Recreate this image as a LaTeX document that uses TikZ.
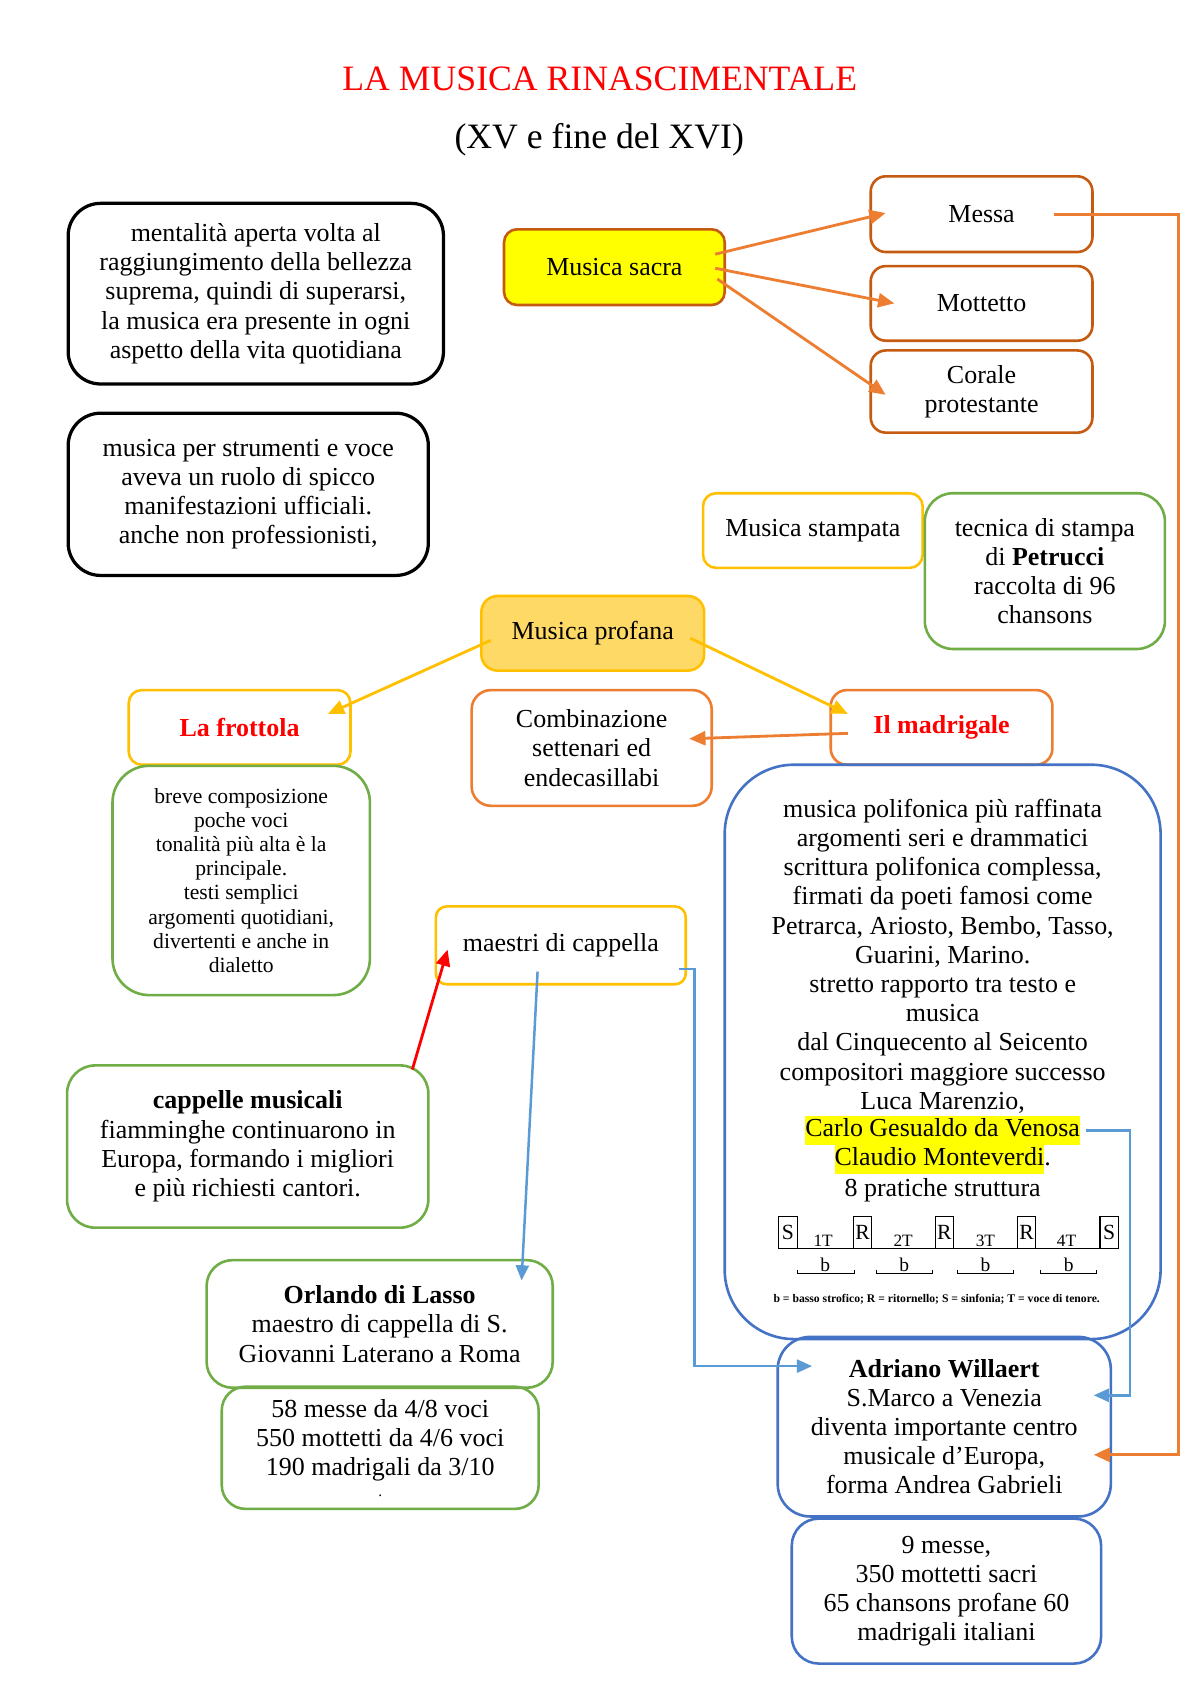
\documentclass[tikz,border=0pt]{standalone}
\usepackage{fontspec}
\setmainfont{Liberation Serif}
\usetikzlibrary{arrows.meta}

\definecolor{rust}{HTML}{C55A11}
\definecolor{orng}{HTML}{ED7D31}
\definecolor{gold}{HTML}{FFC000}
\definecolor{lgold}{HTML}{FFD966}
\definecolor{grn}{HTML}{70AD47}
\definecolor{blu}{HTML}{4472C4}
\definecolor{lblu}{HTML}{5B9BD5}
\definecolor{hl}{HTML}{FFFF00}

\newcommand{\bodyfont}{\fontsize{24}{27}\selectfont}
\newcommand{\smallfont}{\fontsize{20}{22.4}\selectfont}
\setlength{\fboxsep}{0pt}

\begin{document}
\begin{tikzpicture}[x=1pt, y=-1pt,
  box/.style={draw, line width=2.4pt, align=center, inner sep=2pt, font=\bodyfont},
  blackbox/.style={box, draw=black, line width=3pt, rounded corners=30pt},
  sacrabox/.style={box, draw=rust, rounded corners=14pt},
  goldbox/.style={box, draw=gold, rounded corners=12pt},
  greenbox/.style={box, draw=grn, rounded corners=26pt},
  orangebox/.style={box, draw=orng, rounded corners=18pt},
  bluebox/.style={box, draw=blu, rounded corners=28pt},
  oarrow/.style={draw=orng, line width=2.6pt, -{Triangle[length=15pt,width=13pt]}},
  garrow/.style={draw=gold, line width=2.6pt, -{Triangle[length=15pt,width=13pt]}},
  barrow/.style={draw=lblu, line width=2.3pt, -{Triangle[length=14pt,width=12pt]}},
  rarrow/.style={draw=red, line width=2.6pt, -{Triangle[length=15pt,width=13pt]}},
  sbox/.style={draw, line width=1pt, minimum width=17pt, minimum height=29pt, inner sep=0pt, font=\fontsize{20}{20}\selectfont},
  tlab/.style={inner sep=0pt, font=\fontsize{16}{16}\selectfont},
]

  \fill[white] (0,0) rectangle (1109.5,1568);

  % Title
  \node[text=red, font=\fontsize{33}{36}\selectfont] (title) at (554.5,72.5) {LA MUSICA RINASCIMENTALE};
  \node[font=\fontsize{33}{36}\selectfont] (sub) at (554,129) {(XV e fine del XVI)};

  % Left notes
  \node[blackbox, minimum width=347pt, minimum height=167pt] (menta) at (236.5,271.5)
    {mentalità aperta volta al\\raggiungimento della bellezza\\suprema, quindi di superarsi,\\la musica era presente in ogni\\aspetto della vita quotidiana};
  \node[blackbox, minimum width=333pt, minimum height=150pt] (strum) at (229.5,457)
    {musica per strumenti e voce\\aveva un ruolo di spicco\\manifestazioni ufficiali.\\anche non professionisti,};

  % Musica sacra
  \node[sacrabox, fill=hl, minimum width=204pt, minimum height=70pt, rounded corners=12pt] (sacra) at (568,247) {Musica sacra};
  \node[sacrabox, minimum width=205pt, minimum height=70pt] (messa) at (907.5,198) {Messa};
  \node[sacrabox, minimum width=205pt, minimum height=69pt] (mott) at (907.5,280.5) {Mottetto};
  \node[sacrabox, minimum width=205pt, minimum height=76pt] (corale) at (907.5,362) {Corale\\protestante};

  % Musica stampata
  \node[goldbox, minimum width=203pt, minimum height=69pt] (stamp) at (751.5,490.5) {Musica stampata};
  \node[greenbox, minimum width=222pt, minimum height=144pt] (petr) at (966,528)
    {tecnica di stampa\\di \textbf{Petrucci}\\raccolta di 96\\chansons};

  % Musica profana
  \node[goldbox, fill=lgold, minimum width=206pt, minimum height=69pt, rounded corners=15pt] (profana) at (548,585.5) {Musica profana};
  \node[goldbox, minimum width=205pt, minimum height=69pt, text=red, font=\bodyfont\bfseries] (frott) at (221.5,672.5) {La frottola};
  \node[greenbox, minimum width=238pt, minimum height=212pt, rounded corners=34pt, font=\smallfont] (frottdet) at (223,814)
    {breve composizione\\poche voci\\tonalità più alta è la\\principale.\\testi semplici\\argomenti quotidiani,\\divertenti e anche in\\dialetto};
  \node[orangebox, minimum width=222pt, minimum height=107pt] (comb) at (547,691.5)
    {Combinazione\\settenari ed\\endecasillabi};
  \node[orangebox, minimum width=205pt, minimum height=69pt, rounded corners=15pt, text=red, font=\bodyfont\bfseries] (madr) at (870.5,672.5) {Il madrigale};

  % Il madrigale, details
  \node[bluebox, minimum width=403pt, minimum height=531pt, rounded corners=64pt] (madrdet) at (871.5,972.5) {};
  \node[align=center, font=\bodyfont, inner sep=0pt] (madrtxt) at (871.5,884)
    {musica polifonica più raffinata\\argomenti seri e drammatici\\scrittura polifonica complessa,\\firmati da poeti famosi come\\Petrarca, Ariosto, Bembo, Tasso,\\Guarini, Marino.\\stretto rapporto tra testo e\\musica\\dal Cinquecento al Seicento\\compositori maggiore successo\\Luca Marenzio,};
  \node[fill=hl, inner sep=0pt, font=\bodyfont] (carlo) at (871.5,1045) {\strut Carlo Gesualdo da Venosa};
  \node[inner sep=0pt, font=\bodyfont] (claudio) at (871.5,1072) {\colorbox{hl}{\strut Claudio Monteverdi}.};
  \node[inner sep=0pt, font=\bodyfont] (prat) at (871.5,1100) {8 pratiche struttura};

  % struttura
  \node[sbox] (s1) at (728.5,1139.5) {S};
  \node[sbox] (r1) at (797.5,1139.5) {R};
  \node[sbox] (r2) at (873,1139.5) {R};
  \node[sbox] (r3) at (949,1139.5) {R};
  \node[sbox] (s2) at (1025.5,1139.5) {S};
  \draw[line width=1pt] (s1.south west) -- (s2.south east);
  \node[tlab] (t1) at (761,1147) {1T};
  \node[tlab] (t2) at (835,1147) {2T};
  \node[tlab] (t3) at (911,1147) {3T};
  \node[tlab] (t4) at (986,1147) {4T};
  \node[tlab, font=\fontsize{18}{18}\selectfont] (b1) at (763,1169) {b};
  \node[tlab, font=\fontsize{18}{18}\selectfont] (b2) at (836,1169) {b};
  \node[tlab, font=\fontsize{18}{18}\selectfont] (b3) at (911,1169) {b};
  \node[tlab, font=\fontsize{18}{18}\selectfont] (b4) at (988,1169) {b};
  \draw[line width=1pt] (737,1174) -- (737,1177) -- (790,1177) -- (790,1174);
  \draw[line width=1pt] (810,1174) -- (810,1177) -- (862,1177) -- (862,1174);
  \draw[line width=1pt] (885,1174) -- (885,1177) -- (937,1177) -- (937,1174);
  \draw[line width=1pt] (962,1174) -- (962,1177) -- (1014,1177) -- (1014,1174);
  \node[tlab, font=\fontsize{10.8}{12}\selectfont\bfseries] (legend) at (866,1201)
    {b = basso strofico; R = ritornello; S = sinfonia; T = voce di tenore.};

  % Maestri di cappella
  \node[goldbox, minimum width=231pt, minimum height=72pt, rounded corners=10pt] (maestri) at (518.5,874) {maestri di cappella};
  \node[greenbox, minimum width=334pt, minimum height=150pt] (capp) at (229,1060)
    {\textbf{cappelle musicali}\\fiamminghe continuarono in\\Europa, formando i migliori\\e più richiesti cantori.};
  \node[greenbox, minimum width=320pt, minimum height=118pt, rounded corners=24pt] (orlando) at (351,1224)
    {\textbf{Orlando di Lasso}\\maestro di cappella di S.\\Giovanni Laterano a Roma};
  \node[greenbox, minimum width=293pt, minimum height=113pt, rounded corners=22pt] (olist) at (351.5,1338.5)
    {58 messe da 4/8 voci\\550 mottetti da 4/6 voci\\190 madrigali da 3/10\\[-8pt]{\fontsize{14}{14}\selectfont .}};
  \node[bluebox, minimum width=308pt, minimum height=166pt, rounded corners=30pt] (adri) at (873,1319)
    {\textbf{Adriano Willaert}\\S.Marco a Venezia\\diventa importante centro\\musicale d’Europa,\\forma Andrea Gabrieli};
  \node[bluebox, minimum width=286pt, minimum height=134pt, rounded corners=25pt] (alist) at (875,1471)
    {9 messe,\\350 mottetti sacri\\65 chansons profane 60\\madrigali italiani};

  % Connectors
  \draw[oarrow] ([xshift=-10pt,yshift=12pt]sacra.east) -- ([xshift=15pt,yshift=1pt]messa.west);
  \draw[oarrow] ([xshift=-10pt,yshift=-1pt]sacra.east) -- ([xshift=23pt]mott.west);
  \draw[oarrow] ([xshift=-8pt,yshift=-11pt]sacra.east) -- ([xshift=15pt,yshift=-3pt]corale.west);
  \draw[oarrow] ([xshift=-37pt]messa.east) -- ++(115,0) |- ([xshift=-17pt,yshift=-26pt]adri.east);

  \draw[garrow] ([xshift=10pt,yshift=-6.5pt]profana.west) -- ([xshift=-22pt,yshift=12.5pt]frott.east);
  \draw[garrow] ([xshift=-14pt,yshift=-4.5pt]profana.east) -- ([xshift=17pt,yshift=12.5pt]madr.west);
  \draw[oarrow] ([xshift=17pt,yshift=-5.5pt]madr.west) -- ([xshift=-22pt,yshift=8.5pt]comb.east);

  \draw[rarrow] ([xshift=-16pt,yshift=-5pt]capp.north east) -- ([xshift=12pt,yshift=-4pt]maestri.west);
  \draw[barrow] ([xshift=-21.5pt,yshift=13pt]maestri.south) -- ([xshift=-30pt,yshift=-20pt]orlando.north east);
  \draw[barrow] ([xshift=-7pt,yshift=-22pt]maestri.east) -- ++(14,0) |- ([xshift=33pt,yshift=56pt]adri.west);
  \draw[barrow] ([xshift=5pt]carlo.east) -- ++(41,0) |- ([xshift=-17pt,yshift=29pt]adri.east);

\end{tikzpicture}
\end{document}
